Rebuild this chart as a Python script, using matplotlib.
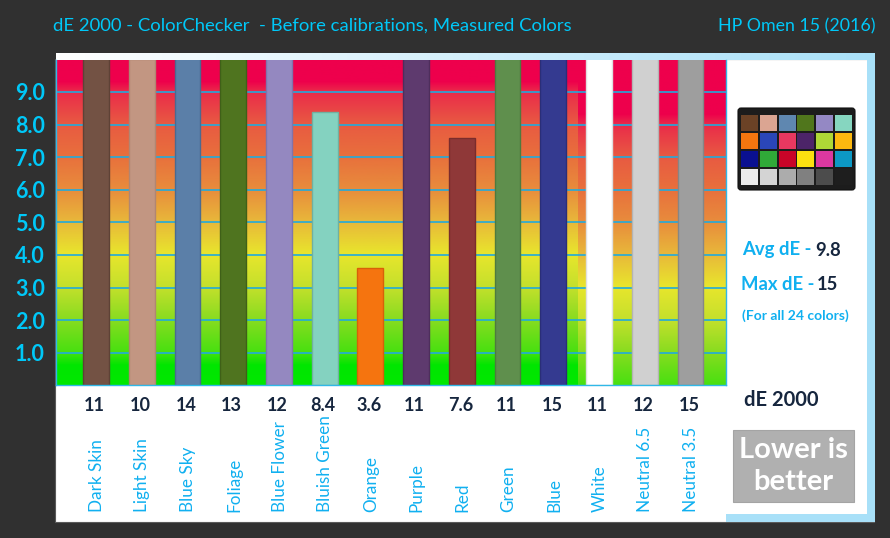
import numpy as np
import matplotlib

# Headless-safe plotting
matplotlib.use("Agg")
import matplotlib.pyplot as plt
from matplotlib.colors import to_rgb
from matplotlib.patches import FancyBboxPatch, Rectangle

plt.rcParams["font.family"] = ["Lato", "DejaVu Sans"]

# ======================================================
# Data
# ======================================================
patch_names = ["Dark Skin", "Light Skin", "Blue Sky", "Foliage", "Blue Flower",
               "Bluish Green", "Orange", "Purple", "Red", "Green", "Blue",
               "White", "Neutral 6.5", "Neutral 3.5"]
de_values = [11, 10, 14, 13, 12, 8.4, 3.6, 11, 7.6, 11, 15, 11, 12, 15]
bar_colors = ["#735244", "#c29682", "#5b7fa8", "#4f741f", "#9488c0", "#84d2c0",
              "#f5740f", "#5e3a6e", "#8f3838", "#5f8f4d", "#343a90", "#ffffff",
              "#d0d0d0", "#9e9e9e"]
edge_colors = ["#5e4236", "#b08672", "#4a6a90", "#3f6018", "#8074ac", "#70b0a0",
               "#d86008", "#4e2e5c", "#7a2c2c", "#4e7a3e", "#2a2e78", "#e0e0e0",
               "#b4b4b4", "#868686"]
y_ticks = [1, 2, 3, 4, 5, 6, 7, 8, 9]

# background gradient, by dE level
grad_levels = [0, 0.6, 1, 2, 3, 4, 5, 6, 7, 8, 9, 9.3, 11]
grad_colors = ["#00e800", "#00e600", "#48e010", "#88dc20", "#c4e02c", "#e8e62c",
               "#e8b83a", "#e88c3c", "#e8703c", "#e85a42", "#ea2a4a", "#ee004c",
               "#ee004c"]

checker_colors = [
    ["#6b4226", "#dba592", "#5f87b0", "#50761c", "#9488c4", "#86d6c0"],
    ["#f5760f", "#2a46b8", "#e83860", "#4c2468", "#aed836", "#fcb80f"],
    ["#0a1090", "#30aa38", "#c80428", "#fce010", "#dc38a0", "#0c98c4"],
    ["#ececec", "#d4d4d4", "#acacac", "#808080", "#4c4c4c", "#1e1e1e"],
]

BG = "#303030"
CYAN = "#00c8f8"
BLUE = "#10b0f0"
NAVY = "#16263e"
W, H = 890, 538


def gradient_image(shift=0.0):
    levels = np.linspace(0, 10, 500)
    rgb = np.array([to_rgb(c) for c in grad_colors])
    img = np.stack([np.interp(levels + shift, grad_levels, rgb[:, i]) for i in range(3)], axis=1)
    return img[:, None, :]


def main():
    fig = plt.figure(figsize=(W / 100, H / 100), dpi=100, facecolor=BG)

    # ---- frame and panels, in pixels ----
    page = fig.add_axes([0, 0, 1, 1], zorder=0)
    page.set_xlim(0, W)
    page.set_ylim(H, 0)
    page.axis("off")
    page.add_patch(Rectangle((55, 59), 819, 463, fc="white", ec="#5a5a5a", lw=0.8))
    page.add_patch(Rectangle((867, 53), 8, 469, fc="#a8e0f8", ec="none"))
    page.add_patch(Rectangle((726, 514), 149, 8, fc="#a8e0f8", ec="none"))
    top_band = np.linspace([1, 1, 1], to_rgb("#a8e0f8"), 256)[None, :, :]
    page.imshow(top_band, extent=(56, 875, 60, 53), aspect="auto", zorder=2)
    page.set_xlim(0, W)
    page.set_ylim(H, 0)

    # ---- main chart ----
    ax = fig.add_axes([56 / W, (H - 385.3) / H, 670 / W, 325.3 / H], zorder=1)
    ax.set_xlim(-0.875, 13.777)
    ax.set_ylim(0, 9.98)
    split = 10.536
    ax.imshow(gradient_image(0.0), extent=(-0.875, split, 0, 10), origin="lower", aspect="auto", zorder=0)
    ax.imshow(gradient_image(1.0), extent=(split, 13.777, 0, 10), origin="lower", aspect="auto", zorder=0)
    ax.set_xlim(-0.875, 13.777)
    ax.set_ylim(0, 9.98)

    for y in y_ticks:
        ax.axhline(y, color="#22aadc", lw=1.2, zorder=1)

    pos = np.arange(len(de_values))
    ax.bar(pos, de_values, width=0.565, color=bar_colors, edgecolor=edge_colors, linewidth=1.0, zorder=2)

    for side in ["top", "right", "bottom", "left"]:
        ax.spines[side].set_color("#30b8e8")
        ax.spines[side].set_linewidth(1.0)
    ax.spines["top"].set_visible(False)

    ax.set_xticks([])
    ax.set_yticks(y_ticks)
    ax.set_yticklabels([f"{y:.1f}" for y in y_ticks], fontsize=15.5, fontweight="bold", color=CYAN, ha="left")
    ax.tick_params(axis="y", length=0, pad=29.5)

    # value and name rows under the bars
    trans = ax.get_xaxis_transform()
    for p, val, name in zip(pos, de_values, patch_names):
        ax.annotate(f"{val:g}", (p, 0), xycoords=trans, xytext=(-1, -14.5), textcoords="offset points",
                    ha="center", va="center", fontsize=13, fontweight="bold", color=NAVY, annotation_clip=False)
        ax.annotate(name, (p, 0), xycoords=trans, xytext=(0.5, -91.5), textcoords="offset points",
                    ha="center", va="bottom", rotation=90, fontsize=12.3, color=BLUE, annotation_clip=False)

    # ---- titles ----
    page.text(53, 26, "dE 2000 - ColorChecker  - Before calibrations, Measured Colors",
              color=CYAN, fontsize=13.3, va="center", ha="left")
    page.text(875, 26, "HP Omen 15 (2016)", color=CYAN, fontsize=12.8, va="center", ha="right")

    # ---- side panel ----
    page.text(742, 250, "Avg dE -", color=BLUE, fontsize=13.3, fontweight="bold", va="center")
    page.text(815, 250, "9.8", color=NAVY, fontsize=13.3, fontweight="bold", va="center")
    page.text(741, 285, "Max dE -", color=BLUE, fontsize=13.3, fontweight="bold", va="center")
    page.text(817, 285, "15", color=NAVY, fontsize=13.3, fontweight="bold", va="center")
    page.text(742, 316, "(For all 24 colors)", color=BLUE, fontsize=10, fontweight="bold", va="center")
    page.text(744, 400, "dE 2000", color=NAVY, fontsize=14.5, fontweight="bold", va="center")

    page.add_patch(Rectangle((733, 430), 121, 72, fc="#b0b0b0", ec="#a4a4a4", lw=0.8))
    page.text(793.5, 466, "Lower is\nbetter", color="white", fontsize=21, fontweight="bold",
              ha="center", va="center", linespacing=1.25)

    # ---- colour checker thumbnail ----
    page.add_patch(FancyBboxPatch((740, 110), 113, 78, boxstyle="round,pad=2,rounding_size=3",
                                  fc="#1c1c1c", ec="#111111", lw=0.8))
    chk = fig.add_axes([741 / W, (H - 186) / H, 112 / W, 72 / H], zorder=2)
    chk.set_xlim(0, 6)
    chk.set_ylim(4, 0)
    chk.axis("off")
    for r, row in enumerate(checker_colors):
        for c, col in enumerate(row):
            chk.add_patch(Rectangle((c + 0.02, r + 0.03), 0.90, 0.90, fc=col, ec="none"))

    fig.savefig("out.png", dpi=100, facecolor=BG)
    plt.close(fig)


if __name__ == "__main__":
    main()
